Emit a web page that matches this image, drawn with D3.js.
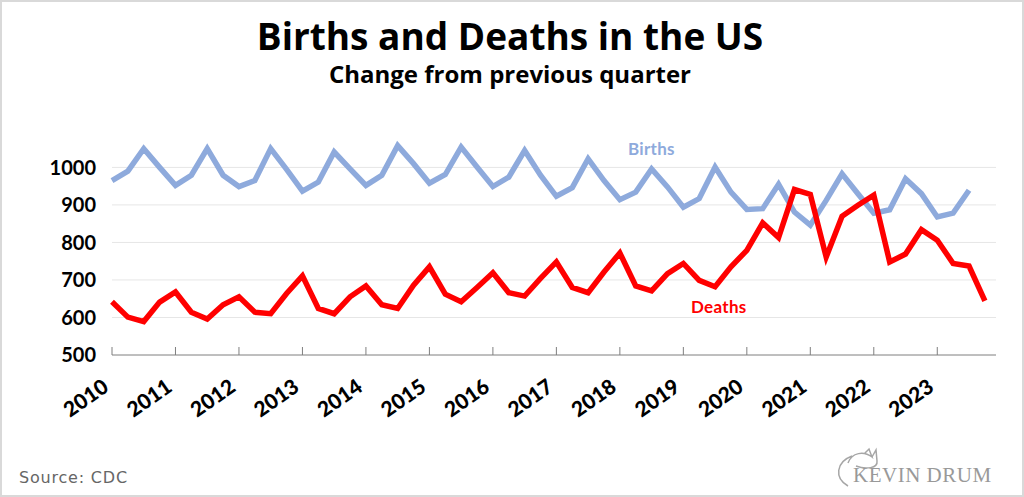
<!DOCTYPE html>
<html>
<head>
<meta charset="utf-8">
<script src="https://cdn.jsdelivr.net/npm/d3@7"></script>
<style>
  body { margin: 0; background: #fff; }
  svg { display: block; }
</style>
</head>
<body>
<script>
"use strict";

// quarterly values, 2010 Q1 onward (thousands)
var births = [965, 990, 1050, 1000, 952, 979, 1050, 979, 949, 965, 1050, 995,
              937, 961, 1041, 996, 952, 979, 1058, 1010, 958, 981, 1054, 1001,
              949, 974, 1045, 979, 923, 946, 1023, 965, 914, 934, 996, 948,
              894, 917, 1001, 934, 888, 890, 955, 881, 846, 912, 983, 930,
              878, 887, 970, 930, 868, 878, 939];
var deaths = [642, 601, 589, 641, 668, 614, 596, 634, 655, 614, 610, 664,
              711, 624, 610, 655, 684, 634, 624, 686, 735, 662, 642, 680,
              719, 666, 657, 704, 748, 680, 666, 721, 772, 684, 671, 717,
              744, 699, 682, 735, 779, 852, 813, 941, 928, 761, 870, 899,
              926, 748, 769, 834, 806, 744, 737, 644];
var years = ["2010", "2011", "2012", "2013", "2014", "2015", "2016",
             "2017", "2018", "2019", "2020", "2021", "2022", "2023"];
var yTicks = [500, 600, 700, 800, 900, 1000];

var W = 1024, H = 497;
var svg = d3.select("body").append("svg").attr("width", W).attr("height", H);

svg.append("rect").attr("x", 1).attr("y", 1).attr("width", W - 2).attr("height", H - 2)
   .attr("fill", "#fff").attr("stroke", "#d9d9d9").attr("stroke-width", 2);

var x = d3.scaleLinear().domain([0, 55.7]).range([112, 996]);
var y = d3.scaleLinear().domain([500, 1000]).range([355, 167.4]);

// title
svg.append("text").attr("x", 510).attr("y", 50).attr("text-anchor", "middle")
   .style("font-family", "Open Sans").style("font-weight", 700).style("font-size", "37px")
   .text("Births and Deaths in the US");
svg.append("text").attr("x", 510).attr("y", 82.5).attr("text-anchor", "middle")
   .style("font-family", "Open Sans").style("font-weight", 700).style("font-size", "24px")
   .text("Change from previous quarter");

// gridlines
svg.append("g").selectAll("line").data(yTicks.slice(1)).enter().append("line")
   .attr("x1", x.range()[0]).attr("x2", x.range()[1])
   .attr("y1", function (d) { return y(d); }).attr("y2", function (d) { return y(d); })
   .attr("stroke", "#e6e6e6").attr("stroke-width", 1);

// y labels
svg.append("g").selectAll("text").data(yTicks).enter().append("text")
   .attr("x", 96).attr("y", function (d) { return y(d); }).attr("dy", "0.36em")
   .attr("text-anchor", "end")
   .style("font-family", "Lato").style("font-weight", 700).style("font-size", "20px")
   .text(function (d) { return d; });

// x axis: line with ticks pointing up
var xAxis = svg.append("g").attr("transform", "translate(0," + y(500) + ")");
xAxis.append("line").attr("x1", x.range()[0]).attr("x2", x.range()[1])
   .attr("stroke", "#7f7f7f").attr("stroke-width", 1);
xAxis.selectAll(".tick").data(years).enter().append("line")
   .attr("x1", function (d, i) { return x(i * 4); }).attr("x2", function (d, i) { return x(i * 4); })
   .attr("y1", -8).attr("y2", 0).attr("stroke", "#7f7f7f");
xAxis.selectAll("text").data(years).enter().append("text")
   .attr("transform", function (d, i) { return "translate(" + (x(i * 4) - 2) + ",35) rotate(-35)"; })
   .attr("text-anchor", "end")
   .style("font-family", "Lato").style("font-weight", 900).style("font-size", "21px")
   .text(function (d) { return d; });

var line = d3.line()
   .x(function (d, i) { return x(i); })
   .y(function (d) { return y(d); });

svg.append("path").datum(births).attr("d", line)
   .attr("fill", "none").attr("stroke", "#8eaadc").attr("stroke-width", 5.5)
   .attr("stroke-linejoin", "miter");
svg.append("path").datum(deaths).attr("d", line)
   .attr("fill", "none").attr("stroke", "#ff0000").attr("stroke-width", 5.5)
   .attr("stroke-linejoin", "miter");

// series labels
svg.append("text").attr("x", 628).attr("y", 155)
   .style("font-family", "Lato").style("font-weight", 700).style("font-size", "17px")
   .style("letter-spacing", "0.3px")
   .attr("fill", "#8eaadc").text("Births");
svg.append("text").attr("x", 691).attr("y", 313)
   .style("font-family", "Lato").style("font-weight", 700).style("font-size", "17px")
   .style("letter-spacing", "0.3px")
   .attr("fill", "#ff0000").text("Deaths");

// source
svg.append("text").attr("x", 19).attr("y", 483)
   .style("font-family", "DejaVu Sans").style("font-size", "16px")
   .style("letter-spacing", "0.8px")
   .attr("fill", "#666").text("Source: CDC");

// logo
var logo = svg.append("g").attr("fill", "none").attr("stroke", "#a6a6a6").attr("stroke-width", 1.5);
logo.append("path").attr("d", "M852,456 C836,462 834,478 848,486 M848,463 C852,452 864,451 872,457 L869,449 L864,454 M872,457 L876,450 L877,461 C878,468 866,470 856,466");
svg.append("text").attr("x", 853).attr("y", 482)
   .style("font-family", "Liberation Serif").style("font-size", "21px")
   .style("letter-spacing", "0.5px")
   .attr("fill", "#999").text("KEVIN DRUM");
</script>
</body>
</html>
